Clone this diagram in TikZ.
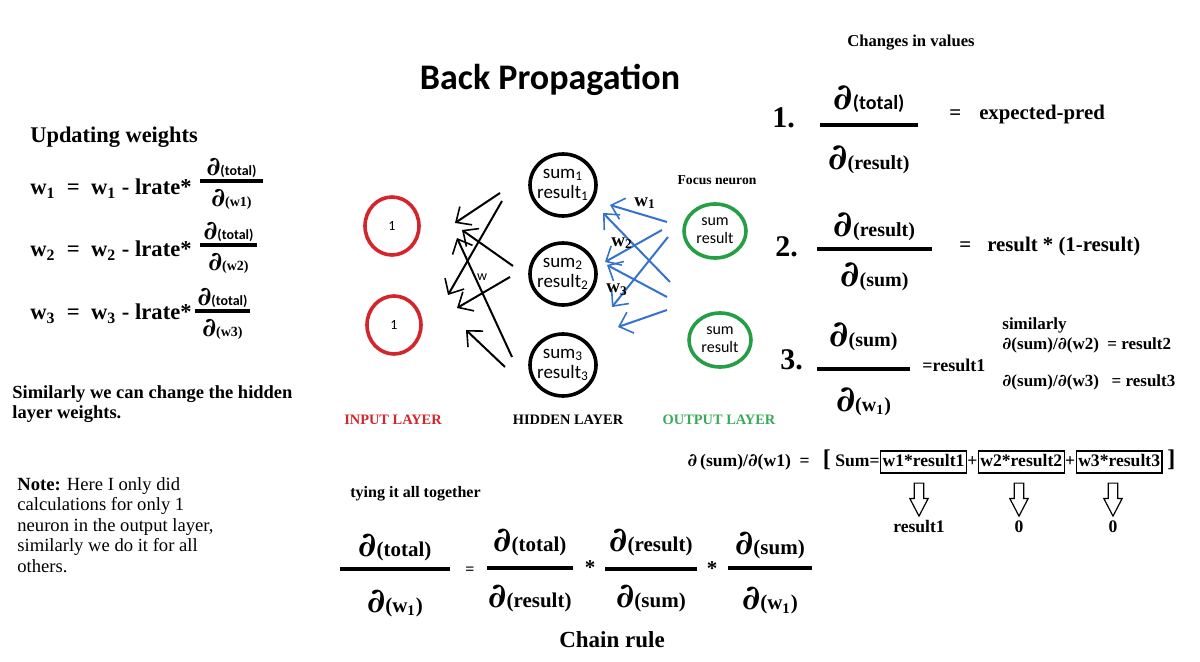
\documentclass[tikz,border=0pt]{standalone}
\usepackage{fontspec}
\setmainfont{Liberation Serif}
\setsansfont{Carlito}
\newfontfamily\pdfont{DejaVu Serif}
\usetikzlibrary{
  arrows.meta,
  positioning,
  shapes.geometric,
  shapes.arrows,
  chains,
  calc
}
\definecolor{inputRed}{RGB}{210,38,44}
\definecolor{outputGreen}{RGB}{38,158,70}
\definecolor{labelGreen}{RGB}{58,170,88}
\definecolor{weightBlue}{RGB}{52,114,204}

% partial sign at a given size
\newcommand{\pd}[1]{{\pdfont\bfseries\itshape\fontsize{#1}{#1}\selectfont ∂}}
% bar, numerator and denominator of one fraction
\newcommand{\pfrac}[8]{%
  \draw[fracbar] (#2,#4) coordinate (#1a) -- (#3,#4) coordinate (#1b);
  \node[anchor=base] (#1n) at ({(#2+#3)/2},#5) {#7};
  \node[anchor=base] (#1d) at ({(#2+#3)/2},#6) {#8};
}

\tikzset{
  neuron/.style={ellipse, draw, line width=1.8pt, inner sep=0pt},
  inneuron/.style={neuron, draw=inputRed, minimum width=27pt, minimum height=29pt,
    font=\sffamily\fontsize{7}{7}\selectfont},
  hidneuron/.style={neuron, minimum width=33pt, minimum height=31pt},
  outneuron/.style={neuron, draw=outputGreen, minimum width=31pt, minimum height=27pt,
    align=center, font=\sffamily\fontsize{8}{9}\selectfont},
  neurontext/.style={align=center, inner sep=0pt,
    font=\sffamily\fontsize{9.5}{10}\selectfont},
  fracbar/.style={line width=1.6pt},
  termbox/.style={draw, line width=0.6pt, inner sep=1pt},
  downarrow/.style={single arrow, shape border rotate=270, draw, line width=0.6pt,
    minimum height=16.5pt, inner sep=2.1pt, single arrow head extend=2.2pt,
    single arrow tip angle=55},
  weight/.style={line width=1pt, ->}
}

\begin{document}
\begin{tikzpicture}[
    x=0.5pt, y=-0.5pt,
    every node/.style={inner sep=0pt},
    >={Straight Barb[length=6pt, width=11pt, line width=0.8pt]},
    serifb/.style={anchor=base west, font=\bfseries\fontsize{#1}{#1}\selectfont}
  ]
  \useasboundingbox (0,0) rectangle (1200,662);

  \node[anchor=base, font=\sffamily\bfseries\fontsize{18}{18}\selectfont] (title)
    at (550,90) {Back Propagation};

  % updating weights
  \node[serifb=11.2] (upd) at (30,143) {Updating weights};
  \begin{scope}[font=\bfseries\fontsize{7}{7}\selectfont]
    \foreach \i/\yb/\ybar/\xa/\xb in {1/195/181/200/263, 2/257/245/200/257, 3/320/311/195/250}{
      \node[serifb=11.3] (w\i) at (30,\yb)
        {w\textsubscript{\i}\ \ =\ \ w\textsubscript{\i}\ -\ lrate*};
      \pfrac{L\i}{\xa}{\xb}{\ybar}{\ybar-5}{\ybar+26}{\pd{13}\textsf{(total)}}{\pd{13}(w\i)}
    }
  \end{scope}

  \node[anchor=north west, align=left, font=\bfseries\fontsize{9.25}{10.2}\selectfont] (simil)
    at (12,385) {Similarly we can change the hidden\\layer weights.};
  \node[anchor=north west, align=left, font=\fontsize{9.3}{10.25}\selectfont] (note)
    at (17,477) {\textbf{Note:} Here I only did\\calculations for only 1\\neuron in the output layer,\\similarly we do it for all\\others.};

  % network
  \node[inneuron] (in1) at (392,226) {1};
  \node[inneuron] (in2) at (394,325) {1};
  \foreach \i/\y in {1/185, 2/274, 3/365}{
    \node[hidneuron, label={[neurontext]center:{sum\textsubscript{\i}\\result\textsubscript{\i}}}]
      (h\i) at (563,\y) {};
  }
  \node[outneuron] (o1) at (715,231) {sum\\result};
  \node[outneuron] (o2) at (720,340) {sum\\result};
  \node[anchor=base, font=\bfseries\fontsize{6.8}{7}\selectfont] (focus) at (717,185) {Focus neuron};

  \foreach \i/\sx/\sy/\ex/\ey in {1/500/193/455/223, 2/502/201/448/295, 3/513/266/462/230,
      4/510/277/457/308, 5/512/357/457/238, 6/505/367/466/330}{
    \coordinate (bs\i) at (\sx,\sy);
    \coordinate (be\i) at (\ex,\ey);
    \draw[weight] (bs\i) -- (be\i);
  }
  \node[font=\sffamily\fontsize{7}{7}\selectfont] (wlab) at (482,277) {w};

  \foreach \i/\sx/\sy/\ex/\ey in {1/667/222/610/205, 2/662/230/605/262, 3/668/237/612/307,
      4/670/282/603/213, 5/667/297/607/265, 6/667/310/618/327}{
    \coordinate (us\i) at (\sx,\sy);
    \coordinate (ue\i) at (\ex,\ey);
    \draw[weight, weightBlue] (us\i) -- (ue\i);
  }
  \begin{scope}[font=\bfseries\fontsize{9.5}{9.5}\selectfont]
    \node (wl1) at (645,203) {w\textsubscript{1}};
    \node (wl2) at (622,243) {w\textsubscript{2}};
    \node (wl3) at (617,290) {w\textsubscript{3}};
  \end{scope}

  \begin{scope}[font=\bfseries\fontsize{7.2}{7.2}\selectfont]
    \node[anchor=base, text=inputRed] (inlab) at (393,425) {INPUT LAYER};
    \node[anchor=base] (hidlab) at (568,425) {HIDDEN LAYER};
    \node[anchor=base, text=labelGreen] (outlab) at (719,425) {OUTPUT LAYER};
  \end{scope}

  % changes in values
  \node[anchor=base, font=\bfseries\fontsize{8.3}{8.3}\selectfont] (changes) at (911,47) {Changes in values};
  \node[serifb=15] (n1) at (772,128) {1.};
  \node[serifb=15] (n2) at (775,257) {2.};
  \node[serifb=15] (n3) at (780,370) {3.};
  \begin{scope}[font=\bfseries\fontsize{10}{10}\selectfont, fracbar/.style={line width=2pt}]
    \pfrac{R1}{820}{918}{125}{110}{170}{\pd{18}\textsf{(total)}}{\pd{18}(result)}
    \pfrac{R2}{817}{932}{249}{237}{287}{\pd{18}(result)}{\pd{18}(sum)}
    \pfrac{R3}{817}{910}{369}{347}{412}{\pd{18}(sum)}{\pd{18}(w\textsubscript{1})}
  \end{scope}
  \node[serifb=10.4] (e1) at (949,120) {=\hspace{9pt}expected-pred};
  \node[serifb=10.4] (e2) at (959,252) {=\hspace{8pt}result * (1-result)};
  \node[serifb=9] (e3) at (922,372) {=result1};
  \begin{scope}[font=\bfseries\fontsize{8.5}{8.5}\selectfont]
    \node[anchor=base west] (s0) at (1002,330) {similarly};
    \node[anchor=base west] (s2) at (1002,350) {\pd{8.5}(sum)/\pd{8.5}(w2)\ \ =\ result2};
    \node[anchor=base west] (s3) at (1002,387) {\pd{8.5}(sum)/\pd{8.5}(w3)\ \ \ =\ result3};
  \end{scope}

  % the sum written out
  \begin{scope}[start chain, node distance=0pt,
      every node/.style={inner sep=0pt, text height=7pt, text depth=2pt,
        font=\bfseries\fontsize{8.8}{8.8}\selectfont}]
    \node[on chain, termbox] (t1) at (923.5,462) {w1*result1};
    \node[on chain] (p1) {+};
    \node[on chain, termbox] (t2) {w2*result2};
    \node[on chain] (p2) {+};
    \node[on chain, termbox] (t3) {w3*result3};
    \node[on chain] (close) {\ {\fontsize{12}{12}\selectfont]}};
    \node[left=0pt of t1] (lead)
      {\pd{9}\,(sum)/\pd{9}(w1)\ \ =\ \ \ {\fontsize{12}{12}\selectfont[}\ Sum=};
  \end{scope}
  \foreach \i/\x/\r in {1/919/result1, 2/1019/0, 3/1113/0}{
    \node[downarrow] (d\i) at (\x,495) {};
    \node[anchor=base, font=\bfseries\fontsize{8.8}{8.8}\selectfont] (r\i) at (\x,532) {\r};
  }

  % chain rule
  \node[anchor=base west, font=\bfseries\fontsize{8}{8}\selectfont] (tying) at (350,498) {tying it all together};
  \begin{scope}[font=\bfseries\fontsize{10.5}{10.5}\selectfont]
    \pfrac{C1}{340}{450}{569}{557}{612}{\pd{17}(total)}{\pd{17}(w\textsubscript{1})}
    \pfrac{C2}{487}{573}{568}{552}{608}{\pd{17}(total)}{\pd{17}(result)}
    \pfrac{C3}{605}{697}{569}{552}{608}{\pd{17}(result)}{\pd{17}(sum)}
    \pfrac{C4}{728}{812}{568}{555}{610}{\pd{17}(sum)}{\pd{17}(w\textsubscript{1})}
    \node (eqc) at (470,571) {\fontsize{8}{8}\selectfont =};
    \node (m1) at (590,568) {*};
    \node (m2) at (712,569) {*};
  \end{scope}
  \node[anchor=base, font=\bfseries\fontsize{11.5}{11.5}\selectfont] (chain) at (612,647) {Chain rule};
\end{tikzpicture}
\end{document}
